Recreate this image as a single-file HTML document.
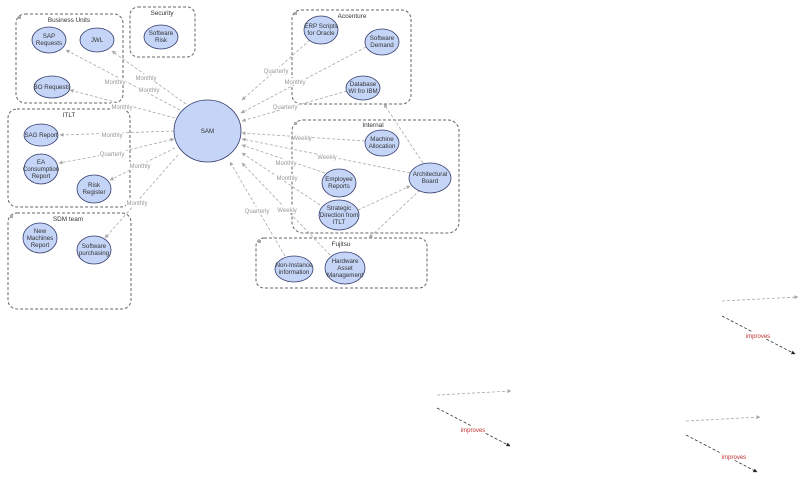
<!DOCTYPE html>
<html><head><meta charset="utf-8"><style>
html,body{margin:0;padding:0;background:#fff;width:800px;height:480px;overflow:hidden}
svg{font-family:"Liberation Sans",sans-serif}
.g{fill:none;stroke:#666;stroke-width:1;stroke-dasharray:3,2}
.e{fill:#c5d5f7;stroke:#333a6a;stroke-width:0.8}
.c{stroke:#a8a8a8;stroke-width:0.8;stroke-dasharray:3,2;fill:none}
.k{stroke:#333;stroke-width:0.8;stroke-dasharray:3,2;fill:none}
.t{font-size:6.2px;fill:#333;text-anchor:middle}
.l{font-size:6px;fill:#999;text-anchor:middle}
.r{font-size:6px;fill:#c03030;text-anchor:middle}
.gt{font-size:6.4px;fill:#333;text-anchor:middle}
</style></head><body>
<svg width="800" height="480" viewBox="0 0 800 480">
<defs>
<marker id="a" viewBox="0 0 10 10" refX="9" refY="5" markerWidth="5" markerHeight="5" orient="auto"><path d="M0,0L10,5L0,10z" fill="#a8a8a8"/></marker>
<marker id="b" viewBox="0 0 10 10" refX="9" refY="5" markerWidth="5" markerHeight="5" orient="auto"><path d="M0,0L10,5L0,10z" fill="#222"/></marker>
</defs>
<rect class="g" x="16" y="14" width="107" height="89" rx="9"/><text class="gt" x="69" y="22">Business Units</text><rect x="18" y="16" width="3" height="3" fill="#aaa"/>
<rect class="g" x="130" y="7" width="65" height="50" rx="8"/><text class="gt" x="162" y="15">Security</text>
<rect class="g" x="8" y="109" width="122" height="98" rx="9"/><text class="gt" x="69" y="117">ITLT</text>
<rect class="g" x="8" y="213" width="123" height="96" rx="9"/><text class="gt" x="68" y="221">SDM team</text><rect x="10" y="215" width="3" height="3" fill="#aaa"/>
<rect class="g" x="292" y="10" width="119" height="94" rx="9"/><text class="gt" x="352" y="18">Accenture</text><rect x="294" y="12" width="3" height="3" fill="#aaa"/>
<rect class="g" x="292" y="120" width="167" height="113" rx="11"/><text class="gt" x="373" y="127">Internal</text><rect x="294" y="122" width="3" height="3" fill="#aaa"/>
<rect class="g" x="256" y="238" width="171" height="50" rx="8"/><text class="gt" x="341" y="246">Fujitsu</text><rect x="258" y="240" width="3" height="3" fill="#aaa"/>
<g>
<path class="c" d="M180,110L66,50" marker-end="url(#a)"/>
<path class="c" d="M186,104L112,51" marker-end="url(#a)"/>
<path class="c" d="M175,118L70,90" marker-end="url(#a)"/>
<path class="c" d="M174,131L60,135" marker-end="url(#a)"/>
<path class="c" d="M120,152L59,163" marker-end="url(#a)"/>
<path class="c" d="M120,152L174,139" marker-end="url(#a)"/>
<path class="c" d="M175,148L110,180" marker-end="url(#a)"/>
<path class="c" d="M178,155L105,238" marker-end="url(#a)"/>
<path class="c" d="M310,40L242,100" marker-end="url(#a)"/>
<path class="c" d="M366,47L241,113" marker-end="url(#a)"/>
<path class="c" d="M347,91L242,121" marker-end="url(#a)"/>
<path class="c" d="M365,141L242,133" marker-end="url(#a)"/>
<path class="c" d="M410,173L242,139" marker-end="url(#a)"/>
<path class="c" d="M325,173L242,145" marker-end="url(#a)"/>
<path class="c" d="M320,205L242,153" marker-end="url(#a)"/>
<path class="c" d="M330,255L242,163" marker-end="url(#a)"/>
<path class="c" d="M285,256L230,162" marker-end="url(#a)"/>
<path class="c" d="M358,210L410,186" marker-end="url(#a)"/>
<path class="c" d="M423,163L384,104" marker-end="url(#a)"/>
<path class="c" d="M420,190L369,238" marker-end="url(#a)"/>
</g>
<g fill="#fff">
<rect x="104" y="78" width="22" height="7"/><rect x="134" y="74" width="24" height="7"/><rect x="138" y="86" width="22" height="7"/>
<rect x="111" y="103" width="22" height="7"/><rect x="101" y="131" width="22" height="7"/><rect x="99" y="150" width="27" height="7"/>
<rect x="129" y="162" width="22" height="7"/><rect x="126" y="199" width="22" height="7"/>
<rect x="262" y="67" width="27" height="7"/><rect x="284" y="78" width="22" height="7"/><rect x="271" y="103" width="27" height="7"/>
<rect x="293" y="134" width="19" height="7"/><rect x="318" y="153" width="19" height="7"/><rect x="275" y="159" width="22" height="7"/>
<rect x="276" y="174" width="22" height="7"/><rect x="278" y="206" width="19" height="7"/><rect x="243" y="207" width="27" height="7"/>
</g>
<g class="l">
<text x="115" y="84">Monthly</text><text x="146" y="80">Monthly</text><text x="149" y="92">Monthly</text>
<text x="122" y="109">Monthly</text><text x="112" y="137">Monthly</text><text x="112" y="156">Quarterly</text>
<text x="140" y="168">Monthly</text><text x="137" y="205">Monthly</text>
<text x="276" y="73">Quarterly</text><text x="295" y="84">Monthly</text><text x="285" y="109">Quarterly</text>
<text x="302" y="140">Weekly</text><text x="327" y="159">Weekly</text><text x="286" y="165">Monthly</text>
<text x="287" y="180">Monthly</text><text x="287" y="212">Weekly</text><text x="257" y="213">Quarterly</text>
</g>
<ellipse class="e" cx="207.5" cy="131" rx="33.5" ry="31"/><text class="t" x="207.5" y="133">SAM</text>
<g>
<ellipse class="e" cx="49" cy="40" rx="17" ry="13"/><text class="t" x="49" y="38">SAP</text><text class="t" x="49" y="45">Requests</text>
<ellipse class="e" cx="97" cy="40" rx="17" ry="12"/><text class="t" x="97" y="42">JWL</text>
<ellipse class="e" cx="52" cy="87" rx="18" ry="11"/><text class="t" x="52" y="89">BO Requests</text>
<ellipse class="e" cx="161" cy="37" rx="17" ry="12"/><text class="t" x="161" y="35">Software</text><text class="t" x="161" y="42">Risk</text>
<ellipse class="e" cx="41" cy="135" rx="17" ry="11"/><text class="t" x="41" y="137">SAG Report</text>
<ellipse class="e" cx="41" cy="169" rx="17" ry="15"/><text class="t" x="41" y="164">EA</text><text class="t" x="41" y="171">Consumption</text><text class="t" x="41" y="178">Report</text>
<ellipse class="e" cx="94" cy="189" rx="17" ry="14"/><text class="t" x="94" y="187">Risk</text><text class="t" x="94" y="194">Register</text>
<ellipse class="e" cx="40" cy="238" rx="17" ry="15"/><text class="t" x="40" y="233">New</text><text class="t" x="40" y="240">Machines</text><text class="t" x="40" y="247">Report</text>
<ellipse class="e" cx="94" cy="250" rx="17" ry="14"/><text class="t" x="94" y="248">Software</text><text class="t" x="94" y="255">purchasing</text>
<ellipse class="e" cx="321" cy="30" rx="17" ry="14"/><text class="t" x="321" y="28">ERP Scripts</text><text class="t" x="321" y="35">for Oracle</text>
<ellipse class="e" cx="382" cy="42" rx="17" ry="13"/><text class="t" x="382" y="40">Software</text><text class="t" x="382" y="47">Demand</text>
<ellipse class="e" cx="363" cy="88" rx="17" ry="12"/><text class="t" x="363" y="86">Database</text><text class="t" x="363" y="93">WI fro IBM</text>
<ellipse class="e" cx="382" cy="143" rx="17" ry="13"/><text class="t" x="382" y="141">Machine</text><text class="t" x="382" y="148">Allocation</text>
<ellipse class="e" cx="430" cy="178" rx="21" ry="15"/><text class="t" x="430" y="176">Architectural</text><text class="t" x="430" y="183">Board</text>
<ellipse class="e" cx="339" cy="183" rx="17" ry="14"/><text class="t" x="339" y="181">Employee</text><text class="t" x="339" y="188">Reports</text>
<ellipse class="e" cx="339" cy="215" rx="20" ry="15"/><text class="t" x="339" y="210">Strategic</text><text class="t" x="339" y="217">Direction from</text><text class="t" x="339" y="224">ITLT</text>
<ellipse class="e" cx="294" cy="269" rx="19" ry="13"/><text class="t" x="294" y="267">Non-Instance</text><text class="t" x="294" y="274">information</text>
<ellipse class="e" cx="345" cy="268" rx="20" ry="16"/><text class="t" x="345" y="263">Hardware</text><text class="t" x="345" y="270">Asset</text><text class="t" x="345" y="277">Management</text>
</g>
<path class="c" d="M722,301L798,297" marker-end="url(#a)"/>
<path class="k" d="M722,316L795,354" marker-end="url(#b)"/>
<rect x="745" y="332" width="26" height="7" fill="#fff"/><text class="r" x="758" y="338">improves</text>
<path class="c" d="M437,395L511,391" marker-end="url(#a)"/>
<path class="k" d="M437,408L510,446" marker-end="url(#b)"/>
<rect x="460" y="426" width="26" height="7" fill="#fff"/><text class="r" x="473" y="432">improves</text>
<path class="c" d="M686,421L760,417" marker-end="url(#a)"/>
<path class="k" d="M686,435L757,472" marker-end="url(#b)"/>
<rect x="721" y="453" width="26" height="7" fill="#fff"/><text class="r" x="734" y="459">improves</text>
</svg>
</body></html>
